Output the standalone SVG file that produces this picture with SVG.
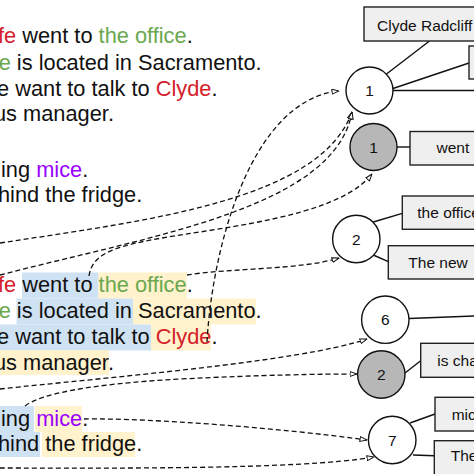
<svg xmlns="http://www.w3.org/2000/svg" width="474" height="474" viewBox="0 0 474 474">
<defs>
<style>
.t{font-family:"Liberation Sans",Arial,sans-serif;font-size:21.8px;fill:#111}
.r{fill:#d4202a}.g{fill:#6aa84f}.p{fill:#9900ff}
.hb{fill:#cfe2f3}.hy{fill:#fff2cc}
.c{fill:#fff;stroke:#111;stroke-width:1.4}
.cg{fill:#b7b7b7;stroke:#111;stroke-width:1.4}
.b{fill:#efefef;stroke:#222;stroke-width:1.4}
.bt{font-family:"Liberation Sans",Arial,sans-serif;font-size:15.5px;fill:#111}
.ct{font-family:"Liberation Sans",Arial,sans-serif;font-size:15.5px;fill:#111;text-anchor:middle}
.e{stroke:#111;stroke-width:1.4;fill:none}
.d{stroke:#111;stroke-width:1.3;fill:none;stroke-dasharray:5 3;marker-end:url(#ah)}
</style>
<marker id="ah" viewBox="0 0 8 6" refX="7.5" refY="3" markerWidth="8" markerHeight="6" orient="auto" markerUnits="userSpaceOnUse"><path d="M0.5,0.6 L7.5,3 L0.5,5.4 Z" fill="#fff" stroke="#111" stroke-width="1"/></marker>
</defs>
<rect width="474" height="474" fill="#fff"/>

<g id="text-top">
<text class="t" x="-2" y="43"><tspan class="r">fe</tspan> went to <tspan class="g">the office</tspan>.</text>
<text class="t" x="-1.3" y="69.5"><tspan class="g">e</tspan> is located in Sacramento.</text>
<text class="t" x="-3" y="95.5">e want to talk to <tspan class="r">Clyde</tspan>.</text>
<text class="t" x="-6" y="121">us manager.</text>
<text class="t" x="1" y="177">ing <tspan class="p">mice</tspan>.</text>
<text class="t" x="-2" y="202">hind the fridge.</text>
</g>

<g id="highlights">
<rect class="hb" x="22" y="272.5" width="76.5" height="26"/>
<rect class="hy" x="98.5" y="272.5" width="88.5" height="26"/>
<rect class="hb" x="16.5" y="298.5" width="116.5" height="26"/>
<rect class="hy" x="133" y="298.5" width="123" height="26"/>
<rect class="hb" x="0" y="324.5" width="151" height="26"/>
<rect class="hy" x="151" y="324.5" width="60" height="26"/>
<rect class="hy" x="0" y="350" width="109" height="25"/>
<rect class="hb" x="0" y="406" width="34" height="26"/>
<rect class="hy" x="35" y="406" width="47" height="26"/>
<rect class="hb" x="0" y="432" width="40" height="25"/>
<rect class="hy" x="42" y="432" width="93" height="25"/>
</g>

<g id="text-bottom">
<text class="t" x="-2" y="291.5"><tspan class="r">fe</tspan> went to <tspan class="g">the office</tspan>.</text>
<text class="t" x="-1.3" y="318"><tspan class="g">e</tspan> is located in Sacramento.</text>
<text class="t" x="-3" y="344">e want to talk to <tspan class="r">Clyde</tspan>.</text>
<text class="t" x="-6" y="369.5">us manager.</text>
<text class="t" x="1" y="425.5">ing <tspan class="p">mice</tspan>.</text>
<text class="t" x="-2" y="450.5">hind the fridge.</text>
</g>

<g id="edges">
<line class="e" x1="386.5" y1="74" x2="429.5" y2="41"/>
<line class="e" x1="393" y1="88.5" x2="469" y2="63"/>
<line class="e" x1="393" y1="90.5" x2="474" y2="90.5"/>
<line class="e" x1="397" y1="147" x2="410" y2="147"/>
<line class="e" x1="373.3" y1="222" x2="402.3" y2="213.3"/>
<line class="e" x1="373.3" y1="255" x2="388.3" y2="261.7"/>
<line class="e" x1="409" y1="318.5" x2="474" y2="316"/>
<line class="e" x1="405" y1="373" x2="420.7" y2="360.7"/>
<line class="e" x1="410" y1="423" x2="435" y2="414"/>
<line class="e" x1="413" y1="455" x2="434.3" y2="455.7"/>
</g>

<g id="connectors">
<path class="d" d="M207 342 C212 250 250 100 339 91"/>
<path class="d" d="M0 243 C150 220 320 200 352 112"/>
<path class="d" d="M0 275 C150 236 335 208 352 112"/>
<path class="d" d="M89 276 C93 250 120 244 200 232 C270 221 345 208 372 174"/>
<path class="d" d="M187 275 C230 268 300 270 339 258"/>
<path class="d" d="M0 389 C100 378 300 362 367 339"/>
<path class="d" d="M25 406 C40 394 90 384 180 379 C260 375 320 374 357 374"/>
<path class="d" d="M84 419 C150 418 280 428 367 440"/>
<path class="d" d="M0 468 C100 468 300 470 374 457"/>
</g>

<g id="node-1"><circle class="c" cx="369.5" cy="90.5" r="23.5"/><text class="ct" x="369.5" y="96">1</text></g>
<g id="box-clyde"><rect class="b" x="364" y="7" width="130" height="34"/><text class="bt" x="377" y="30.5">Clyde Radcliff</text></g>
<g id="box-top2"><rect class="b" x="469" y="46" width="20" height="33"/></g>
<g id="node-g1"><circle class="cg" cx="373.5" cy="147" r="23.5"/><text class="ct" x="373.5" y="152.5">1</text></g>
<g id="box-went"><rect class="b" x="410" y="131.5" width="80" height="33.5"/><text class="bt" x="436.5" y="153">went</text></g>
<g id="node-2"><circle class="c" cx="356.3" cy="239" r="23.7"/><text class="ct" x="356.3" y="244.5">2</text></g>
<g id="box-office"><rect class="b" x="402.3" y="196" width="90" height="33.3"/><text class="bt" x="417.3" y="217.5">the office</text></g>
<g id="box-new"><rect class="b" x="388.3" y="245.7" width="100" height="33.3"/><text class="bt" x="408.3" y="267.5">The new</text></g>
<g id="node-6"><circle class="c" cx="385.3" cy="319.7" r="23.7"/><text class="ct" x="385.3" y="325.2">6</text></g>
<g id="node-g2"><circle class="cg" cx="381.3" cy="374.5" r="23.7"/><text class="ct" x="381.3" y="380">2</text></g>
<g id="box-cha"><rect class="b" x="420.7" y="343.3" width="80" height="34"/><text class="bt" x="437.3" y="365.5">is cha</text></g>
<g id="node-7"><circle class="c" cx="392.2" cy="440" r="23.8"/><text class="ct" x="392.2" y="445.5">7</text></g>
<g id="box-mic"><rect class="b" x="435" y="397.3" width="60" height="33.7"/><text class="bt" x="451.7" y="420">mic</text></g>
<g id="box-the"><rect class="b" x="434.3" y="440.7" width="60" height="40"/><text class="bt" x="450.7" y="460.5">The</text></g>
</svg>
